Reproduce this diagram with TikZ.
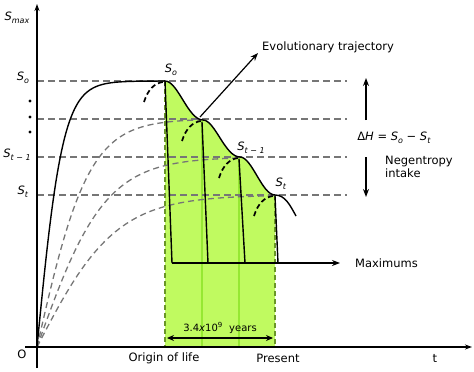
\documentclass[tikz,border=0pt]{standalone}
\usepackage{fontspec}
\setmainfont{DejaVu Sans}
\usetikzlibrary{arrows.meta}
\definecolor{gfill}{RGB}{192,250,96}
\definecolor{gline}{RGB}{150,232,50}
\definecolor{gedge}{RGB}{105,150,40}
\definecolor{dgray}{RGB}{118,118,118}
\newcommand\Slab[2]{\textit{#1}\raisebox{-0.45ex}{\fontsize{8}{9}\selectfont\textit{#2}}}
\begin{document}
\begin{tikzpicture}[x=1pt,y=-1pt, font=\fontsize{11.5}{13}\selectfont,
  hline/.style={dgray, line width=1.4pt, dash pattern=on 7pt off 4pt},
  gcurve/.style={dgray, line width=1.3pt, dash pattern=on 6pt off 4pt},
  bline/.style={black, line width=1.4pt},
  barc/.style={black, line width=1.7pt, dash pattern=on 5pt off 3pt},
  arr/.style={-{Stealth[length=8pt,width=6pt]}, line width=1.3pt},
  axis/.style={line width=1.4pt, -{Stealth[length=7pt,width=5pt]}},
  lbl/.style={inner sep=0pt}]
\useasboundingbox (0,0) rectangle (474,372);

% key points
\coordinate (P0) at (165,81);
\coordinate (P1) at (203,120);
\coordinate (P2) at (240,157);
\coordinate (P3) at (275,195);

% green band
\fill[gfill] (165,347) -- (P0) .. controls (178,81) and (188,120) .. (P1)
  .. controls (215,120) and (225,157) .. (P2)
  .. controls (252,157) and (262,195) .. (P3) -- (275,347) -- cycle;
\draw[gline, line width=1.2pt] (202,121) -- (202,347);
\draw[gline, line width=1.2pt] (239,158) -- (239,347);
\draw[gedge, line width=1.3pt, dash pattern=on 5pt off 3pt] (P0) -- (165,347);
\draw[gedge, line width=1.3pt, dash pattern=on 5pt off 3pt] (P3) -- (275,347);

% horizontal levels
\foreach \yy in {81,119,157,195} \draw[hline] (37,\yy) -- (347,\yy);

% gray saturating curves
\draw[gcurve] plot[domain=37:201,samples=70] (\x,{347-228*tanh((\x-37)/52)});
\draw[gcurve] plot[domain=37:238,samples=70] (\x,{347-190*tanh((\x-37)/68)});
\draw[gcurve] plot[domain=37:273,samples=70] (\x,{347-152*tanh((\x-37)/79)});

% main curve
\draw[bline] plot[domain=37:165,samples=90] (\x,{347-266*tanh((\x-37)/26)}) -- (P0)
  .. controls (178,81) and (188,120) .. (P1)
  .. controls (215,120) and (225,157) .. (P2)
  .. controls (252,157) and (262,195) .. (P3)
  .. controls (285,195) and (290,205) .. (296,216);

% black dashed arcs
\foreach \px/\py in {165/81,203/120,240/157,275/195}
  \draw[barc] (\px-21,\py+21) .. controls (\px-17,\py+8) and (\px-10,\py+2) .. (\px-2,\py+1);

% maxima lines
\coordinate (M0) at (172,263);
\coordinate (M1) at (208,263);
\coordinate (M2) at (245,263);
\coordinate (M3) at (278,263);
\draw[bline] (P0) -- (M0);
\draw[bline] (202,122) -- (M1);
\draw[bline] (239,159) -- (M2);
\draw[bline] (275,196) -- (M3);
\node[lbl, anchor=west] (maxl) at (355,263) {Maximums};
\coordinate (Mend) at (340,263);
\draw[arr] (M0) -- (Mend);

% axes
\coordinate (O) at (37,347);
\coordinate (ytop) at (37,4);
\coordinate (xend) at (472,347);
\draw[axis] (37,368) -- (ytop);
\draw[axis] (25,347) -- (xend);

% dots
\foreach \yy in {101,117,132} \fill (30,\yy) circle (1.6pt);

% left labels
\node[lbl] (smax) at (17,18) {\Slab{S}{max}};
\node[lbl] (so) at (23,78) {\Slab{S}{o}};
\node[lbl] (st1) at (17,155) {\Slab{S}{t − 1}};
\node[lbl] (st) at (23,192) {\Slab{S}{t}};
\node[lbl] (o) at (22,354) {O};

% curve labels
\node[lbl] (so2) at (171,70) {\Slab{S}{o}};
\node[lbl] (st12) at (251,148) {\Slab{S}{t − 1}};
\node[lbl] (st2) at (281,184) {\Slab{S}{t}};

% evolutionary trajectory
\node[lbl, anchor=west] (ev) at (262,47) {Evolutionary trajectory};
\coordinate (evs) at (200,117);
\draw[arr, line width=1.2pt] (evs) -- (258,53);

% delta H
\node[lbl] (dh) at (394,138) {Δ\textit{H} = \Slab{S}{o} − \Slab{S}{t}};
\draw[arr] (366,120) -- (366,78);
\draw[arr] (366,157) -- (366,197);
\node[lbl, anchor=north west, align=left] (neg) at (385,156) {Negentropy\\intake};

% time span
\node[lbl] (span) at (220,328) {\fontsize{10}{12}\selectfont 3.4\textit{x}10\textsuperscript{9}\ \ years};
\draw[{Stealth[length=7pt,width=6pt]}-{Stealth[length=7pt,width=6pt]}, line width=1.6pt] (167,338) -- (273,338);

% axis labels
\node[lbl] (orig) at (164,358) {Origin of life};
\node[lbl] (pres) at (278,358) {Present};
\node[lbl] (t) at (435,358) {t};
\end{tikzpicture}
\end{document}
